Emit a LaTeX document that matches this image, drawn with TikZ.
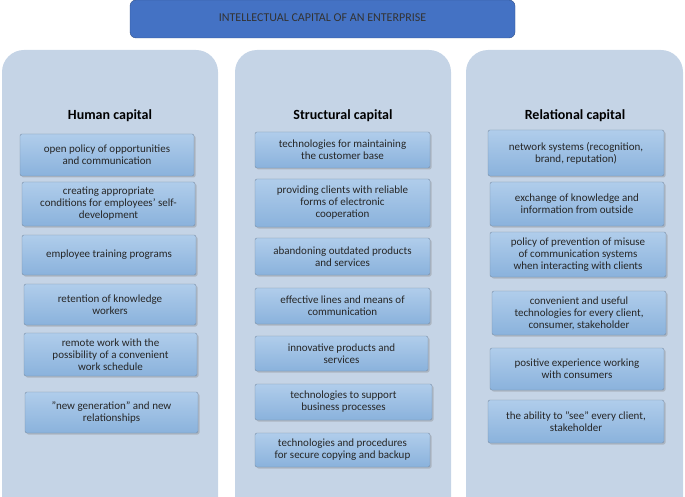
\documentclass[tikz,border=0pt]{standalone}
\usepackage{fontspec}
\setmainfont{Carlito}
\usetikzlibrary{shadows}
\definecolor{colbg}{HTML}{C5D4E6}
\definecolor{titbg}{HTML}{4472C4}
\definecolor{btop}{HTML}{B0CDEB}
\definecolor{bbot}{HTML}{8AB2DC}
\definecolor{bdr}{HTML}{7A8EA6}
\begin{document}
\begin{tikzpicture}[x=1pt,y=-1pt,
 col/.style={fill=colbg,draw=none,rounded corners=22pt},
 item/.style={draw=bdr,top color=btop,bottom color=bbot,rounded corners=2pt,drop shadow={shadow xshift=1.5pt,shadow yshift=-1.5pt,opacity=0.35}},
 txt/.style={align=center,font=\fontsize{11}{12}\selectfont,text=black!85,inner sep=0pt},
 head/.style={font=\fontsize{14}{16}\selectfont\bfseries}]
\useasboundingbox (0,0) rectangle (685,497);
\fill[col] (2,50) rectangle (218,520);
\fill[col] (235,50) rectangle (451,520);
\fill[col] (466,50) rectangle (683,520);
\draw[draw=titbg!70!black,fill=titbg,rounded corners=6pt] (130,0) rectangle (515,38);
\node[font=\fontsize{12}{14}\selectfont,text=black!80] (title) at (322.5,18) {INTELLECTUAL CAPITAL OF AN ENTERPRISE};
\node[head] (h) at (110,116) {Human capital};
\node[head] (s) at (343,116) {Structural capital};
\node[head] (r) at (575,116) {Relational capital};
\newcommand\bx[6]{\draw[item] (#1,#2) rectangle (#3,#4); \node[txt] (#6) at ({(#1+#3)/2},{(#2+#4)/2}) {#5};}
\bx{20}{134}{194}{176}{open policy of opportunities\\and communication}{h1}
\bx{22}{182}{195}{226}{creating appropriate\\conditions for employees' self-\\development}{h2}
\bx{22}{235}{196}{275}{employee training programs}{h3}
\bx{24}{284}{196}{325}{retention of knowledge\\workers}{h4}
\bx{24}{333}{197}{376}{remote work with the\\possibility of a convenient\\work schedule}{h5}
\bx{25}{392}{198}{433}{"new generation" and new\\relationships}{h6}
\bx{255}{132}{430}{168}{technologies for maintaining\\the customer base}{s1}
\bx{255}{179}{430}{227}{providing clients with reliable\\forms of electronic\\cooperation}{s2}
\bx{255}{238}{430}{275}{abandoning outdated products\\and services}{s3}
\bx{255}{288}{430}{324}{effective lines and means of\\communication}{s4}
\bx{255}{336}{428}{371}{innovative products and\\services}{s5}
\bx{255}{384}{432}{420}{technologies to support\\business processes}{s6}
\bx{255}{433}{430}{467}{technologies and procedures\\for secure copying and backup}{s7}
\bx{488}{130}{664}{176}{network systems (recognition,\\brand, reputation)}{r1}
\bx{490}{182}{664}{226}{exchange of knowledge and\\information from outside}{r2}
\bx{490}{232}{666}{277}{policy of prevention of misuse\\of communication systems\\when interacting with clients}{r3}
\bx{492}{291}{666}{335}{convenient and useful\\technologies for every client,\\consumer, stakeholder}{r4}
\bx{490}{348}{664}{390}{positive experience working\\with consumers}{r5}
\bx{488}{400}{664}{443}{the ability to "see" every client,\\stakeholder}{r6}
\end{tikzpicture}
\end{document}
